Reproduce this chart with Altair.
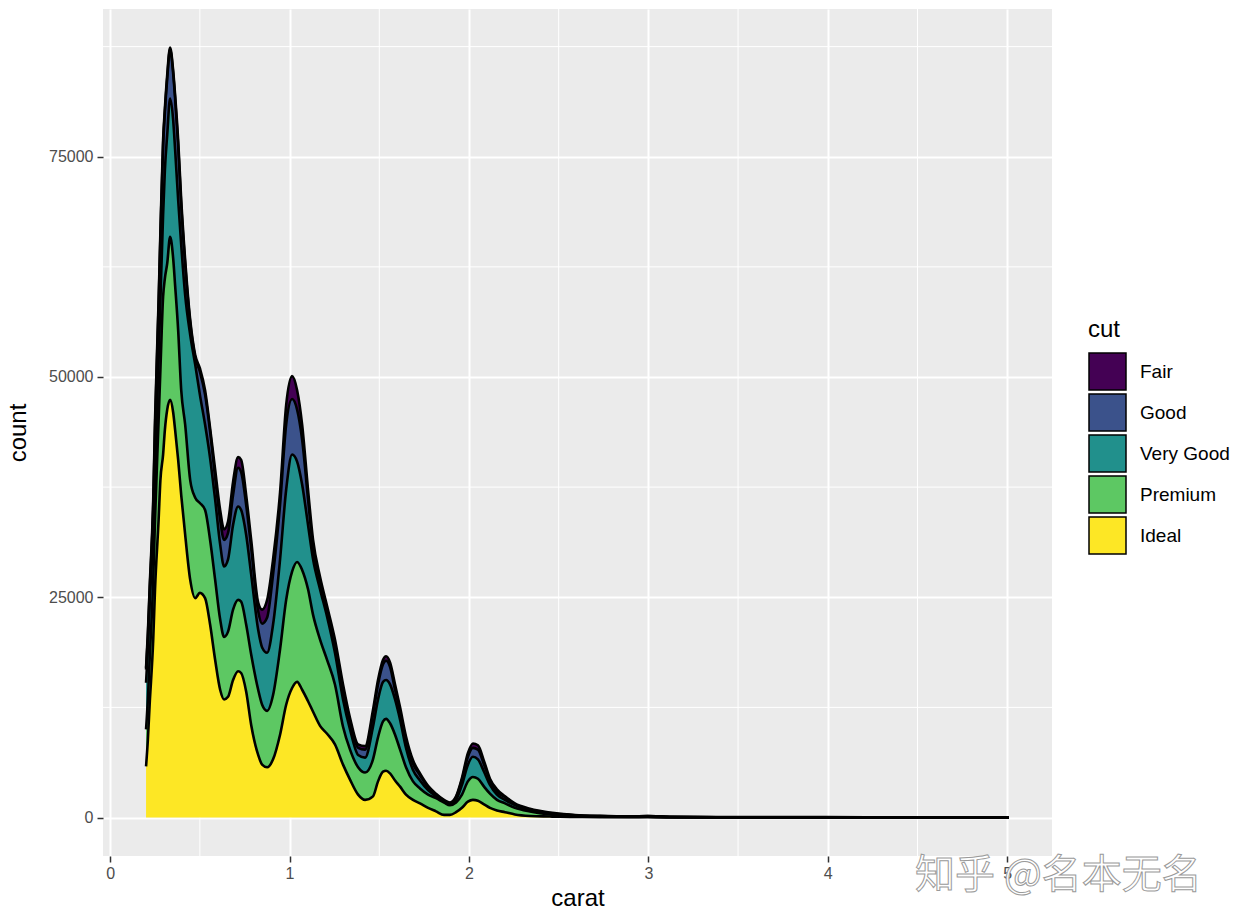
import altair as alt
import pandas as pd

# carat grid (x)
carat = [0.20, 0.21, 0.22, 0.24, 0.25, 0.27, 0.28, 0.295, 0.305, 0.318, 0.334, 0.351, 0.362, 0.379,
         0.396, 0.418, 0.446, 0.474, 0.50, 0.529, 0.557, 0.585, 0.613, 0.635, 0.657, 0.685, 0.713,
         0.73, 0.758, 0.786, 0.825, 0.847, 0.875, 0.908, 0.947, 0.981, 1.014, 1.042, 1.07, 1.103,
         1.131, 1.17, 1.209, 1.253, 1.298, 1.337, 1.382, 1.421, 1.465, 1.493, 1.521, 1.538, 1.56,
         1.588, 1.616, 1.649, 1.688, 1.727, 1.772, 1.816, 1.861, 1.894, 1.928, 1.961, 1.994, 2.022,
         2.05, 2.084, 2.117, 2.156, 2.201, 2.256, 2.34, 2.451, 2.507, 2.591, 2.73, 2.897, 2.997,
         3.12, 3.398, 3.989, 4.401, 5.01]

# stacked (cumulative) top of each cut
ideal_top = [5800, 8800, 12800, 20200, 25900, 33800, 38300, 41200, 44000, 46300, 47400, 46000, 44000, 40600,
             36600, 32100, 27000, 24900, 25500, 24900, 21900, 17900, 14500, 13400, 13700, 15600, 16600,
             16400, 14300, 10500, 7100, 6000, 5700, 6600, 9400, 12800, 14700, 15400, 14500, 13200,
             12000, 10400, 9500, 8300, 6000, 4300, 2600, 2000, 2400, 4100, 5200, 5300, 5000,
             4200, 3500, 2600, 2000, 1600, 1100, 700, 300, 300, 600, 1100, 1800, 2000,
             1900, 1500, 1100, 800, 600, 340, 170, 110, 80, 60, 30, 20, 30,
             10, 0, 0, 0, 0]
premium_top = [10000, 13400, 17900, 27000, 33800, 45100, 50800, 59100, 61200, 62900, 65900, 63500, 60400, 55300,
               48500, 44600, 38300, 36300, 35700, 34900, 31500, 27000, 22500, 20500, 21100, 23600, 24700,
               24500, 21900, 18500, 14500, 12800, 12100, 13900, 19100, 24700, 27900, 29000, 28100, 25900,
               23000, 20200, 17900, 15100, 10300, 7700, 5700, 5100, 6600, 9100, 10900, 11200, 10700,
               9400, 7700, 5700, 4100, 3300, 2600, 2200, 1700, 1400, 1700, 2600, 4100, 4600,
               4400, 3500, 2700, 2000, 1600, 1100, 680, 340, 250, 170, 90, 70, 80,
               30, 10, 10, 0, 0]
verygood_top = [15300, 19100, 24200, 32700, 39500, 51900, 58700, 68400, 73500, 77500, 81600, 79200, 75800, 70100,
                65000, 59300, 54800, 51400, 48000, 44600, 40800, 36100, 31000, 28500, 29300, 33200, 35300,
                34900, 32100, 27600, 21300, 19300, 18700, 21900, 29300, 37200, 41200, 40400, 37800, 33200,
                29300, 25900, 22800, 18700, 13400, 10000, 7100, 6800, 10300, 13400, 15400, 15600, 15100,
                13400, 11100, 7900, 5400, 4200, 3100, 2400, 1800, 1500, 2000, 3700, 6000, 6900,
                6600, 5200, 3700, 2600, 2000, 1400, 800, 450, 340, 230, 140, 100, 140,
                60, 20, 20, 10, 0]
good_top = [16800, 20500, 25600, 35500, 44200, 58200, 65900, 76300, 80100, 83900, 87200, 84500, 81600, 76300,
            69500, 62800, 56200, 52200, 50600, 48000, 43800, 38600, 33800, 31500, 32300, 36600, 39700,
            39200, 35500, 30600, 23400, 22000, 22700, 27600, 35500, 44600, 47500, 46300, 42900, 36100,
            30600, 26800, 23600, 19600, 14500, 10900, 7900, 7700, 11700, 15100, 17400, 17800, 17100,
            14500, 12000, 8800, 6100, 4800, 3400, 2600, 1900, 1600, 2300, 4300, 6900, 7900,
            7700, 6000, 4200, 2900, 2300, 1500, 900, 510, 390, 260, 160, 110, 160,
            70, 30, 30, 10, 0]
fair_top = [17000, 20900, 26100, 36100, 45100, 58700, 66500, 76900, 80500, 84300, 87400, 84800, 82000, 76900,
            70100, 63300, 56500, 52500, 51000, 48500, 44200, 39500, 34900, 32700, 33600, 38100, 40900,
            40600, 36600, 31500, 24400, 23600, 24700, 29300, 36900, 46800, 50100, 48500, 44600, 37200,
            31500, 27300, 24000, 20200, 15100, 11300, 8300, 8100, 12200, 15600, 17900, 18300, 17600,
            15100, 12500, 9200, 6500, 5000, 3600, 2700, 2000, 1700, 2400, 4500, 7300, 8400,
            8200, 6400, 4400, 3200, 2400, 1600, 1000, 570, 430, 290, 180, 120, 170,
            80, 40, 40, 10, 0]

cuts = ["Fair", "Good", "Very Good", "Premium", "Ideal"]
colors = ["#440154", "#3B528B", "#21908C", "#5DC863", "#FDE725"]

x_major = [0, 1, 2, 3, 4, 5]
x_minor = [0.5, 1.5, 2.5, 3.5, 4.5]
y_major = [0, 25000, 50000, 75000]
y_minor = [12500, 37500, 62500, 87500]
watermark = ["知乎 @名本无名"]

zeros = [0] * len(carat)
bands = [("Ideal", zeros, ideal_top), ("Premium", ideal_top, premium_top),
         ("Very Good", premium_top, verygood_top), ("Good", verygood_top, good_top),
         ("Fair", good_top, fair_top)]
rows = []
for name, lo, hi in bands:
    for c, b, t in zip(carat, lo, hi):
        rows.append({"carat": c, "bottom": b, "top": t, "cut": name})
df = pd.DataFrame(rows)

FONT = "Liberation Sans"
xscale = alt.Scale(domain=[-0.04, 5.25], nice=False, zero=False)
yscale = alt.Scale(domain=[-4370, 91770], nice=False, zero=False)

xaxis = alt.Axis(values=x_major, title="carat", grid=True, gridColor="white", gridWidth=2,
                 domain=False, tickColor="#333333", tickSize=6, tickWidth=1.5,
                 labelFontSize=16, labelColor="#4d4d4d", labelFont=FONT, labelPadding=3,
                 titleFontSize=24, titleFont=FONT, titleFontWeight="normal", titleColor="black",
                 titlePadding=5)
yaxis = alt.Axis(values=y_major, format="d", title="count", grid=True, gridColor="white", gridWidth=2,
                 domain=False, tickColor="#333333", tickSize=6, tickWidth=1.5,
                 labelFontSize=16, labelColor="#4d4d4d", labelFont=FONT, labelPadding=4,
                 titleFontSize=24, titleFont=FONT, titleFontWeight="normal", titleColor="black",
                 titlePadding=18)

minor_x = alt.Chart(pd.DataFrame({"v": x_minor})).mark_rule(color="white", strokeWidth=1).encode(
    x=alt.X("v:Q", scale=xscale, axis=xaxis))
minor_y = alt.Chart(pd.DataFrame({"v": y_minor})).mark_rule(color="white", strokeWidth=1).encode(
    y=alt.Y("v:Q", scale=yscale, axis=yaxis))

areas = alt.Chart(df).mark_area(interpolate="monotone", opacity=1).encode(
    x=alt.X("carat:Q", scale=xscale, axis=xaxis),
    y=alt.Y("top:Q", scale=yscale, axis=yaxis, stack=None),
    y2="bottom:Q",
    color=alt.Color("cut:N", scale=alt.Scale(domain=cuts, range=colors),
                    legend=alt.Legend(title="cut", orient="none", legendX=985, legendY=309,
                                      symbolType="square", symbolSize=1369,
                                      symbolStrokeColor="black", symbolStrokeWidth=1.5,
                                      symbolOpacity=1, labelFontSize=19, labelFont=FONT,
                                      labelColor="black", titleFontSize=24, titleFont=FONT,
                                      titleFontWeight="normal", titleColor="black",
                                      rowPadding=-4.5, labelOffset=13, titlePadding=10)),
)

lines = alt.Chart(df).mark_line(color="black", strokeWidth=2.6, interpolate="monotone").encode(
    x=alt.X("carat:Q", scale=xscale, axis=xaxis),
    y=alt.Y("top:Q", scale=yscale, axis=yaxis, stack=None),
    detail="cut:N",
)

wm = alt.Chart(pd.DataFrame({"t": watermark})).mark_text(
    align="left", baseline="alphabetic", fontSize=40, font="Noto Sans CJK SC",
    fill="white", stroke="#9a9a9a", strokeWidth=1).encode(
    x=alt.value(812), y=alt.value(879), text="t:N")

chart = alt.layer(minor_x, minor_y, areas, lines, wm).properties(
    width=949, height=847,
    autosize=alt.AutoSizeParams(type="none"),
    padding={"left": 95, "top": 1, "right": 180, "bottom": 52},
).configure_view(fill="#EBEBEB", stroke=None).resolve_scale(x="shared", y="shared")

chart.save("out.html", embed_options={"renderer": "svg", "actions": False})
